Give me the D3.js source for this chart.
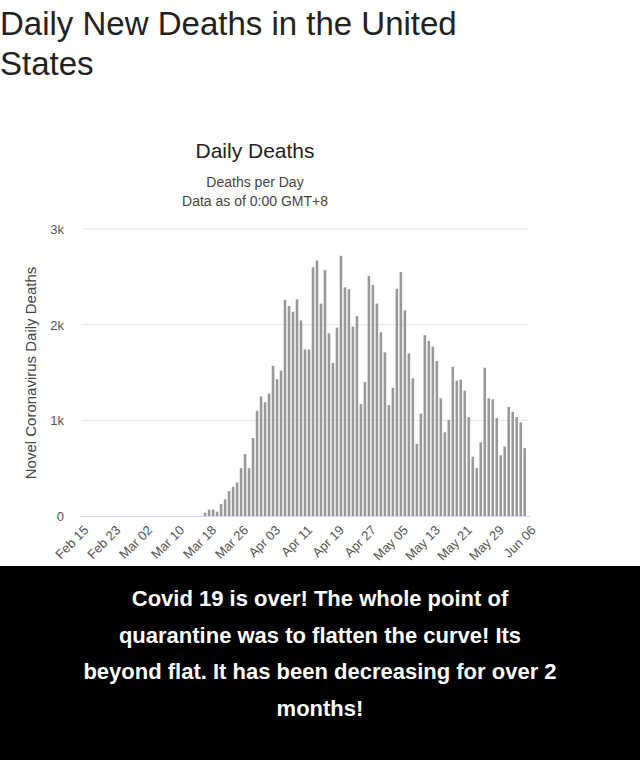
<!DOCTYPE html>
<html><head><meta charset="utf-8">
<script src="https://cdn.jsdelivr.net/npm/d3@7"></script>
<style>body{margin:0;background:#fff;font-family:"Liberation Sans",Arial,sans-serif}</style>
</head><body>
<svg width="640" height="760"></svg>
<script>
// 30 zero days (Feb 15 - Mar 16), then reported daily deaths
const zeros = new Array(30).fill(0);
const deaths = zeros.concat([
  0, 35, 67, 67, 45, 125, 175, 260, 305, 350, 500, 650, 500, 815, 1100, 1250,
  1190, 1280, 1570, 1430, 1520, 2260, 2195, 2135, 2265, 2045, 1740, 1740, 2600, 2670,
  2220, 2570, 1910, 1600, 1970, 2720, 2390, 2370, 1980, 2090, 1170, 1400,
  2510, 2415, 2220, 1920, 1710, 1160, 1340, 2375, 2550, 2150, 1700, 1440, 755, 1070,
  1890, 1830, 1770, 1620, 1230, 875, 1005, 1560, 1415, 1425, 1310, 1035, 620, 500,
  770, 1550, 1230, 1220, 1025, 635, 725, 1140, 1090, 1035, 980, 710
]);
const start = new Date(2020, 1, 15);
const nDays = 113; // Feb 15 - Jun 06
const days = d3.range(nDays).map(i => d3.timeDay.offset(start, i));
const yTicks = [0, 1000, 2000, 3000];
const yTickLabels = ["0", "1k", "2k", "3k"];
const labelDays = d3.range(0, nDays, 8).map(i => days[i]);

const svg = d3.select("svg");
const x = d3.scaleBand().domain(days).range([80, 530]).paddingInner(0.35);
const y = d3.scaleLinear().domain([0, 3000]).range([516, 229]);

svg.append("text").attr("x", 0).attr("y", 35).attr("font-size", 33).attr("fill", "#222").text("Daily New Deaths in the United");
svg.append("text").attr("x", 0).attr("y", 75).attr("font-size", 33).attr("fill", "#222").text("States");

svg.append("text").attr("x", 255).attr("y", 158).attr("text-anchor", "middle").attr("font-size", 21).attr("fill", "#222").text("Daily Deaths");
svg.append("text").attr("x", 255).attr("y", 187).attr("text-anchor", "middle").attr("font-size", 14).attr("fill", "#444").text("Deaths per Day");
svg.append("text").attr("x", 255).attr("y", 206).attr("text-anchor", "middle").attr("font-size", 14).attr("fill", "#444").text("Data as of 0:00 GMT+8");

svg.append("g").selectAll("line").data(yTicks.slice(1)).join("line")
  .attr("x1", 82).attr("x2", 528).attr("y1", d => y(d)).attr("y2", d => y(d))
  .attr("stroke", "#e6e6e6");
svg.append("g").selectAll("text").data(yTicks).join("text")
  .attr("x", 64).attr("y", d => y(d) + 5).attr("text-anchor", "end")
  .attr("font-size", 13).attr("fill", "#555").text((d, i) => yTickLabels[i]);
svg.append("text").attr("transform", "translate(36,373) rotate(-90)").attr("text-anchor", "middle")
  .attr("font-size", 15).attr("fill", "#444").text("Novel Coronavirus Daily Deaths");

svg.append("g").selectAll("rect").data(deaths).join("rect")
  .attr("x", (d, i) => x(days[i])).attr("width", x.bandwidth())
  .attr("y", d => y(d)).attr("height", d => y(0) - y(d)).attr("fill", "#999");
svg.append("line").attr("x1", 80).attr("x2", 530).attr("y1", y(0) + 0.5).attr("y2", y(0) + 0.5).attr("stroke", "#ccd6eb");

const fmt = d3.timeFormat("%b %d");
svg.append("g").selectAll("text").data(labelDays).join("text")
  .attr("transform", d => `translate(${x(d) + x.bandwidth() / 2 + 8},${531}) rotate(-45)`)
  .attr("text-anchor", "end").attr("font-size", 13).attr("fill", "#555").text(d => fmt(d));

svg.append("rect").attr("x", 0).attr("y", 566).attr("width", 640).attr("height", 194).attr("fill", "#000");
const caption = ["Covid 19 is over! The whole point of", "quarantine was to flatten the curve! Its",
  "beyond flat. It has been decreasing for over 2", "months!"];
svg.append("g").selectAll("text").data(caption).join("text")
  .attr("x", 320).attr("y", (d, i) => 606 + i * 36.5).attr("text-anchor", "middle")
  .attr("font-size", 22).attr("font-weight", "bold").attr("fill", "#fff").text(d => d);
</script>
</body></html>
